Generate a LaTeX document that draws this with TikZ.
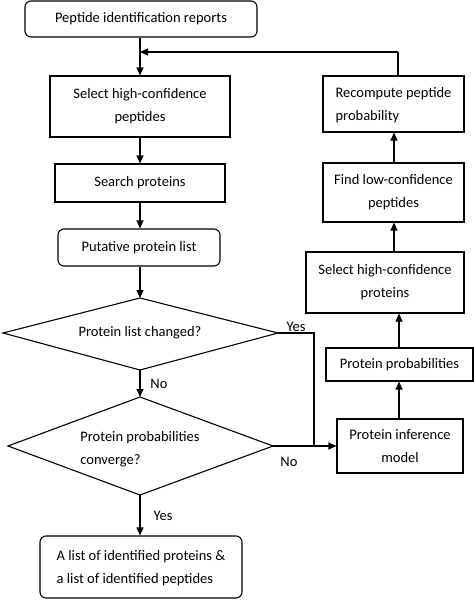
\documentclass[tikz,border=0pt]{standalone}
\usepackage{fontspec}
\setmainfont{Carlito}
\usetikzlibrary{arrows.meta}
\begin{document}
\begin{tikzpicture}[x=1pt,y=-1pt,
  every node/.style={font=\fontsize{14.5}{23}\selectfont, inner sep=0pt},
  box/.style={draw, line width=1.1pt, align=center},
  rbox/.style={box, rounded corners=6pt},
  lbl/.style={font=\fontsize{14.5}{16}\selectfont},
  arr/.style={line width=1.1pt, -{Triangle[length=8pt,width=7pt]}},
  ln/.style={line width=1.1pt}]
\useasboundingbox (0,0) rectangle (474,600);
% left column
\node[rbox, minimum width=232pt, minimum height=36pt] (top) at (141,19) {Peptide identification reports};
\node[box, minimum width=180pt, minimum height=61pt] (sel) at (140,106.5) {Select high-confidence\\peptides};
\node[box, minimum width=170pt, minimum height=38pt] (search) at (140,183) {Search proteins};
\node[rbox, minimum width=162pt, minimum height=37pt] (put) at (139,247.5) {Putative protein list};
% diamond 1
\coordinate (d1n) at (140,298);
\coordinate (d1e) at (278,333);
\coordinate (d1s) at (140,370);
\coordinate (d1w) at (3,333);
\draw[ln] (d1n) -- (d1e) -- (d1s) -- (d1w) -- cycle;
\node (d1) at (140,333) {Protein list changed?};
% diamond 2
\coordinate (d2n) at (140,397);
\coordinate (d2e) at (273,446);
\coordinate (d2s) at (140,495);
\coordinate (d2w) at (8,446);
\draw[ln] (d2n) -- (d2e) -- (d2s) -- (d2w) -- cycle;
\node (d2) at (140,448) {\begin{tabular}{@{}l@{}}Protein probabilities\\converge?\end{tabular}};
\node[rbox, minimum width=202pt, minimum height=62pt] (res) at (141,567) {\begin{tabular}{@{}l@{}}A list of identified proteins \&\\a list of identified peptides\end{tabular}};
% right column
\node[box, minimum width=141pt, minimum height=56pt] (rec) at (393.5,104) {\begin{tabular}{@{}l@{}}Recompute peptide\\probability\end{tabular}};
\node[box, minimum width=141pt, minimum height=59pt] (find) at (393.5,192.5) {Find low-confidence\\peptides};
\node[box, minimum width=158pt, minimum height=61pt] (selp) at (385,282.5) {Select high-confidence\\proteins};
\node[box, minimum width=147pt, minimum height=33pt] (prob) at (399.5,364.5) {Protein probabilities};
\node[box, minimum width=126pt, minimum height=54pt] (inf) at (400,446) {Protein inference\\model};
% helper coordinates
\coordinate (mainx) at (140,52);
\coordinate (fbx) at (398,52);
\coordinate (yx) at (314,333);
\coordinate (yy) at (314,446);
% connectors
\draw[arr] (top.south -| mainx) -- (sel.north -| mainx);
\draw[ln] (rec.north -| fbx) -- (fbx);
\draw[arr] (fbx) -- (mainx);
\draw[arr] (sel.south -| mainx) -- (search.north -| mainx);
\draw[arr] (search.south -| mainx) -- (put.north -| mainx);
\draw[arr] (put.south -| mainx) -- (d1n);
\draw[arr] (d1s) -- (d2n);
\draw[arr] (d2s) -- (res.north -| d2s);
\draw[ln] (d1e) -- (yx) -- (yy);
\draw[arr] (d2e) -- (inf.west);
\node[lbl] (nolbl1) at (159,384) {No};
\node[lbl] (yeslbl2) at (163,516) {Yes};
\node[lbl] (yeslbl) at (296,327) {Yes};
\node[lbl] (nolbl) at (289,462) {No};
\draw[arr] (inf.north -| 399,0) -- (prob.south -| 399,0);
\draw[arr] (prob.north -| 399,0) -- (selp.south -| 399,0);
\draw[arr] (selp.north -| 394,0) -- (find.south -| 394,0);
\draw[arr] (find.north -| 394,0) -- (rec.south -| 394,0);
\end{tikzpicture}
\end{document}
